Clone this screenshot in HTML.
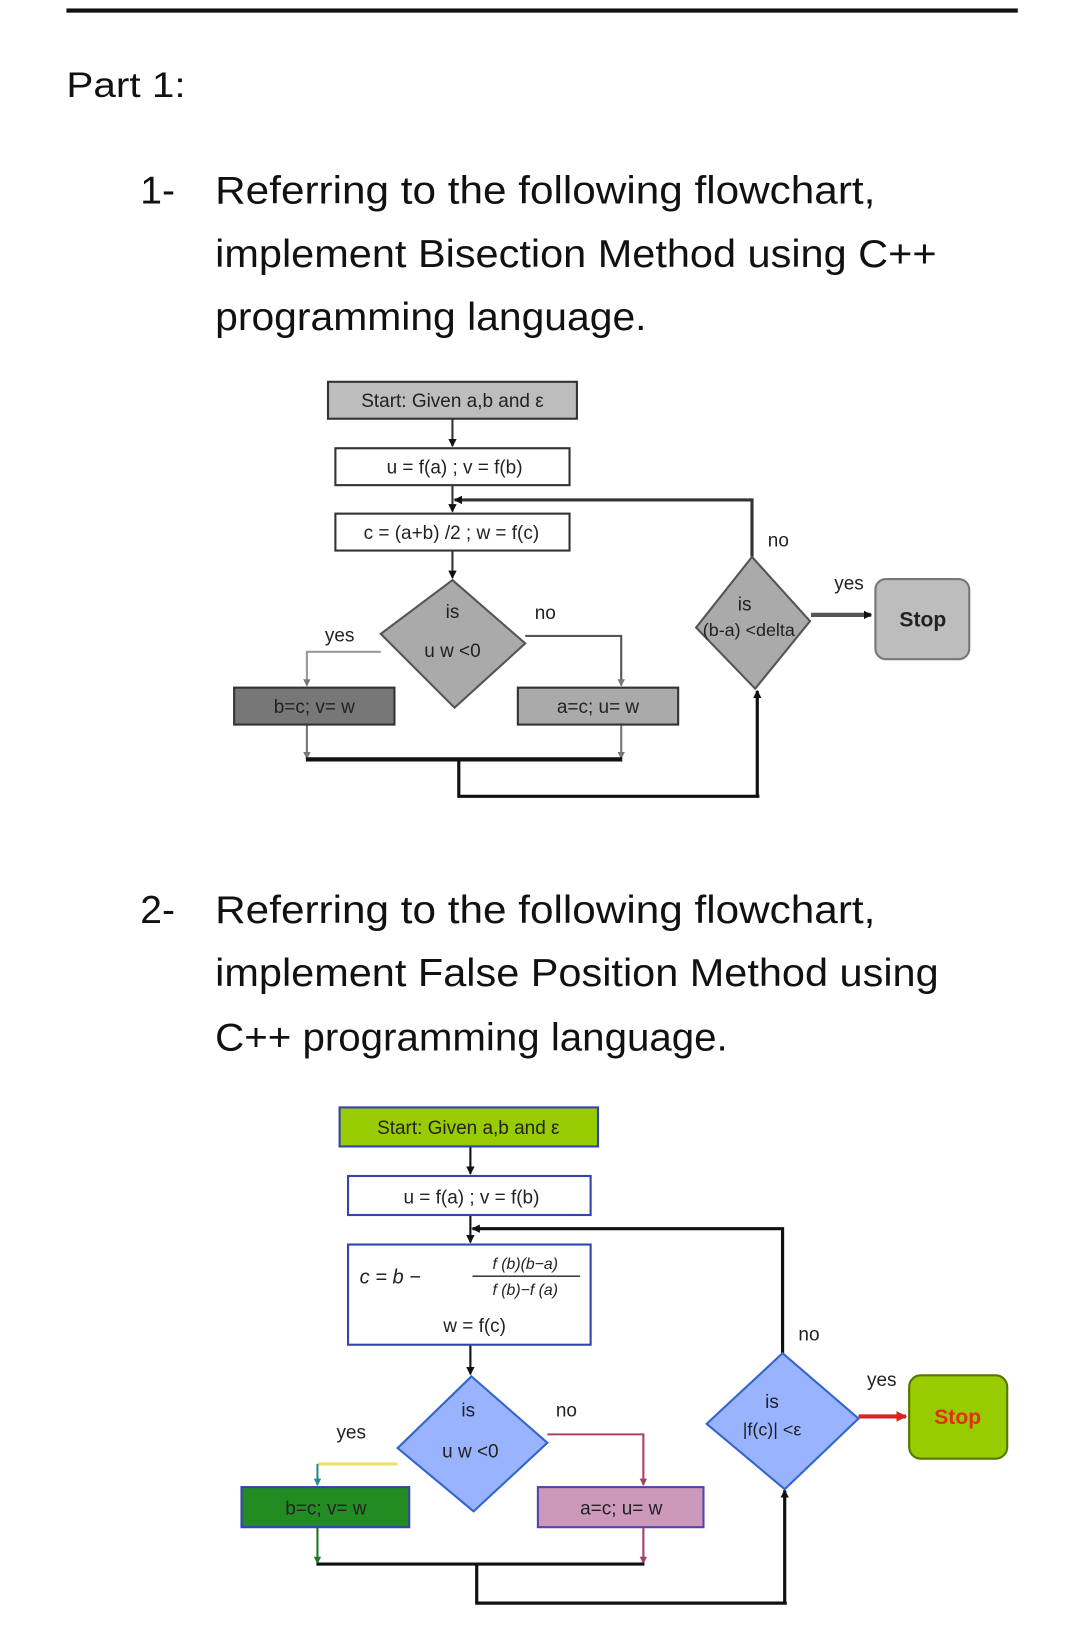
<!DOCTYPE html>
<html><head><meta charset="utf-8"><style>
html,body{margin:0;padding:0;background:#fff;}
svg{display:block;}
text{font-family:"Liberation Sans",sans-serif;}
</style></head><body>
<svg width="1080" height="1647" viewBox="0 0 1024 1561.6" preserveAspectRatio="none" xmlns="http://www.w3.org/2000/svg">
<defs>
<marker id="a" markerWidth="8" markerHeight="8" refX="7" refY="4" orient="auto" markerUnits="userSpaceOnUse"><path d="M0,0 L8,4 L0,8 z" fill="#111"/></marker>
<marker id="g" markerWidth="7" markerHeight="7" refX="6" refY="3.5" orient="auto" markerUnits="userSpaceOnUse"><path d="M0,0 L7,3.5 L0,7 z" fill="#777"/></marker>
<marker id="r" markerWidth="10" markerHeight="10" refX="9" refY="5" orient="auto" markerUnits="userSpaceOnUse"><path d="M0,0 L10,5 L0,10 z" fill="#e02020"/></marker>
<marker id="t" markerWidth="7" markerHeight="7" refX="6" refY="3.5" orient="auto" markerUnits="userSpaceOnUse"><path d="M0,0 L7,3.5 L0,7 z" fill="#2a8a8a"/></marker>
<marker id="p" markerWidth="7" markerHeight="7" refX="6" refY="3.5" orient="auto" markerUnits="userSpaceOnUse"><path d="M0,0 L7,3.5 L0,7 z" fill="#a04070"/></marker>
<marker id="gr" markerWidth="7" markerHeight="7" refX="6" refY="3.5" orient="auto" markerUnits="userSpaceOnUse"><path d="M0,0 L7,3.5 L0,7 z" fill="#1e7a1e"/></marker>
</defs>
<rect x="63" y="8" width="902" height="4" fill="#111"/>
<text x="63" y="92" font-size="33" fill="#111" textLength="113" lengthAdjust="spacingAndGlyphs">Part 1:</text>
<g font-size="37" fill="#111">
<text x="133" y="193">1-</text>
<text x="204" y="193" textLength="626" lengthAdjust="spacingAndGlyphs">Referring to the following flowchart,</text>
<text x="204" y="253" textLength="684" lengthAdjust="spacingAndGlyphs">implement Bisection Method using C++</text>
<text x="204" y="313" textLength="409" lengthAdjust="spacingAndGlyphs">programming language.</text>
<text x="133" y="875">2-</text>
<text x="204" y="875" textLength="626" lengthAdjust="spacingAndGlyphs">Referring to the following flowchart,</text>
<text x="204" y="935" textLength="686" lengthAdjust="spacingAndGlyphs">implement False Position Method using</text>
<text x="204" y="996" textLength="486" lengthAdjust="spacingAndGlyphs">C++ programming language.</text>
</g>

<!-- Flowchart 1 -->
<g stroke="#333" stroke-width="2" fill="none">
<line x1="429" y1="397" x2="429" y2="423" marker-end="url(#a)"/>
<line x1="429" y1="460" x2="429" y2="485" marker-end="url(#a)"/>
<polyline points="713,528 713,474 431,474" stroke-width="3" marker-end="url(#a)"/>
<line x1="429" y1="522" x2="429" y2="548" marker-end="url(#a)"/>
<polyline points="361,618 291,618 291,650" stroke="#999" marker-end="url(#g)"/>
<polyline points="498,603 589,603 589,650" stroke="#555" marker-end="url(#g)"/>
<line x1="291" y1="687" x2="291" y2="719" stroke="#777" marker-end="url(#g)"/>
<line x1="589" y1="687" x2="589" y2="719" stroke="#777" marker-end="url(#g)"/>
<line x1="290" y1="720" x2="590" y2="720" stroke-width="4" stroke="#111"/>
<polyline points="435,721 435,755 720,755" stroke-width="3" stroke="#111"/>
<line x1="718" y1="755" x2="718" y2="655" stroke-width="3" stroke="#111" marker-end="url(#a)"/>
<line x1="769" y1="583" x2="826" y2="583" stroke-width="4" stroke="#555" marker-end="url(#a)"/>
</g>
<rect x="311" y="362" width="236" height="35" fill="#bdbdbd" stroke="#333" stroke-width="2"/>
<rect x="318" y="425" width="222" height="35" fill="#fff" stroke="#333" stroke-width="2"/>
<rect x="318" y="487" width="222" height="35" fill="#fff" stroke="#333" stroke-width="2"/>
<polygon points="429,550 498,610 431,671 361,601" fill="#aaa" stroke="#555" stroke-width="2"/>
<rect x="222" y="652" width="152" height="35" fill="#777" stroke="#333" stroke-width="2"/>
<rect x="491" y="652" width="152" height="35" fill="#aaa" stroke="#333" stroke-width="2"/>
<polygon points="713,528 768,589 716,653 660,595" fill="#aaa" stroke="#555" stroke-width="2"/>
<rect x="830" y="549" width="89" height="76" rx="10" fill="#bdbdbd" stroke="#777" stroke-width="2"/>
<g font-size="18" fill="#222" text-anchor="middle">
<text x="429" y="386">Start: Given  a,b  and ε</text>
<text x="431" y="449">u = f(a) ; v = f(b)</text>
<text x="428" y="511">c = (a+b) /2 ; w = f(c)</text>
<text x="429" y="586">is</text>
<text x="429" y="623">u w &lt;0</text>
<text x="517" y="587">no</text>
<text x="322" y="608">yes</text>
<text x="298" y="676">b=c; v= w</text>
<text x="567" y="676">a=c; u= w</text>
<text x="706" y="579">is</text>
<text x="710" y="603" font-size="17">(b-a) &lt;delta</text>
<text x="738" y="518">no</text>
<text x="805" y="559">yes</text>
<text x="875" y="594" font-weight="bold" font-size="20">Stop</text>
</g>

<!-- Flowchart 2 -->
<g stroke-width="2" fill="none">
<line x1="446" y1="1087" x2="446" y2="1113" stroke="#111" marker-end="url(#a)"/>
<line x1="446" y1="1152" x2="446" y2="1178" stroke="#111" marker-end="url(#a)"/>
<polyline points="742,1283 742,1165 448,1165" stroke="#111" stroke-width="3" marker-end="url(#a)"/>
<line x1="446" y1="1275" x2="446" y2="1303" stroke="#111" marker-end="url(#a)"/>
<polyline points="377,1388 301,1388" stroke="#f0e070" stroke-width="3"/>
<line x1="301" y1="1388" x2="301" y2="1408" stroke="#2a8a8a" marker-end="url(#t)"/>
<polyline points="519,1360 610,1360 610,1408" stroke="#b04060" marker-end="url(#p)"/>
<line x1="301" y1="1448" x2="301" y2="1482" stroke="#1e7a1e" marker-end="url(#gr)"/>
<line x1="610" y1="1448" x2="610" y2="1482" stroke="#a04070" marker-end="url(#p)"/>
<line x1="300" y1="1483" x2="611" y2="1483" stroke="#111" stroke-width="3"/>
<polyline points="452,1484 452,1520 746,1520" stroke="#111" stroke-width="3"/>
<line x1="744" y1="1520" x2="744" y2="1413" stroke="#111" stroke-width="3" marker-end="url(#a)"/>
<line x1="814" y1="1343" x2="859" y2="1343" stroke="#e02020" stroke-width="4" marker-end="url(#r)"/>
</g>
<rect x="322" y="1050" width="245" height="37" fill="#99cc00" stroke="#3344aa" stroke-width="2"/>
<rect x="330" y="1115" width="230" height="37" fill="#fff" stroke="#3344aa" stroke-width="2"/>
<rect x="330" y="1180" width="230" height="95" fill="#fff" stroke="#3344aa" stroke-width="2"/>
<polygon points="447,1305 519,1368 449,1433 377,1373" fill="#99b3ff" stroke="#3366cc" stroke-width="2"/>
<rect x="229" y="1410" width="159" height="38" fill="#228b22" stroke="#3344aa" stroke-width="2"/>
<rect x="510" y="1410" width="157" height="38" fill="#cc99bb" stroke="#5544aa" stroke-width="2"/>
<polygon points="742,1283 814,1345 744,1412 670,1350" fill="#99b3ff" stroke="#3366cc" stroke-width="2"/>
<rect x="862" y="1304" width="93" height="79" rx="11" fill="#99cc00" stroke="#557700" stroke-width="2"/>
<g font-size="18" fill="#222" text-anchor="middle">
<text x="444" y="1075">Start: Given  a,b  and ε</text>
<text x="447" y="1141">u = f(a) ; v = f(b)</text>
<text x="370" y="1217" font-family="Liberation Serif" font-style="italic" font-size="19">c = b  −</text>
<text x="498" y="1203" font-family="Liberation Serif" font-style="italic" font-size="15">f (b)(b−a)</text>
<line x1="448" y1="1210" x2="550" y2="1210" stroke="#222" stroke-width="1.3"/>
<text x="498" y="1228" font-family="Liberation Serif" font-style="italic" font-size="15">f (b)−f (a)</text>
<text x="450" y="1263">w = f(c)</text>
<text x="444" y="1343">is</text>
<text x="446" y="1382">u w &lt;0</text>
<text x="537" y="1343">no</text>
<text x="333" y="1364">yes</text>
<text x="309" y="1436">b=c; v= w</text>
<text x="589" y="1436">a=c; u= w</text>
<text x="732" y="1335">is</text>
<text x="732" y="1361" font-size="17">|f(c)| &lt;ε</text>
<text x="767" y="1271">no</text>
<text x="836" y="1314">yes</text>
<text x="908" y="1350" font-weight="bold" font-size="20" fill="#e03010">Stop</text>
</g>
</svg>
</body></html>
